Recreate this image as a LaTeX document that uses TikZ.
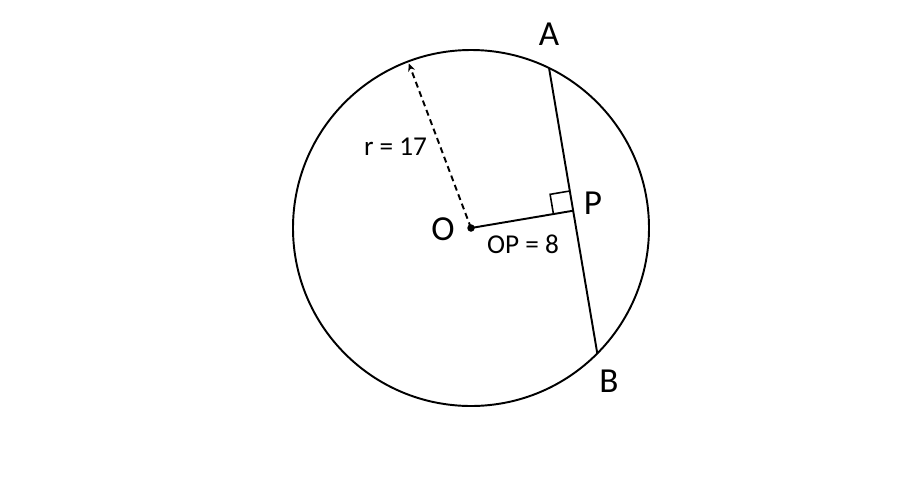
\documentclass[tikz,border=0pt]{standalone}
\usepackage{fontspec}
\setmainfont{Carlito}
\usetikzlibrary{calc,arrows.meta}

\begin{document}
\begin{tikzpicture}
	\tikzstyle{every node}=[font=\fontsize{15.5}{18}\selectfont]
	\tikzstyle{biglabel}=[font=\fontsize{20}{24}\selectfont]
	\tikzstyle{thickline}=[line width=1.1pt]
	\useasboundingbox (-9.42,-5.48) rectangle (8.92,4.56);
	\coordinate (O) at (0,0);
	\coordinate (A) at (64:3.56);
	\coordinate (B) at (-44.8:3.56);
	\coordinate (R) at (110.7:3.52);
	\coordinate (P) at ($(A)!(O)!(B)$);
	\coordinate (Q1) at ($(P)!0.4cm!(O)$);
	\coordinate (Q2) at ($(P)!0.4cm!(A)$);
	\coordinate (Q) at ($(Q1)+(Q2)-(P)$);
	\draw [thickline] (O) circle (3.56cm);
	\draw [thickline] (A) -- (B);
	\draw [thickline] (O) -- (P);
	\draw [thickline, dash pattern=on 3.4pt off 2.3pt, -{Stealth[length=1.6mm,width=1.4mm]}] (O) -- (R);
	\draw [line width=0.9pt] (Q1) -- (Q) -- (Q2);
	\fill (O) circle (0.075cm);
	\node [biglabel] (labA) at (1.56,3.87) {A};
	\node [biglabel] (labB) at (2.76,-3.06) {B};
	\node [biglabel] (labP) at (2.44,0.5) {P};
	\node [biglabel] (labO) at (-0.56,-0.02) {O};
	\node (labr) at (-1.51,1.63) {r = 17};
	\node (labOP) at (1.04,-0.32) {OP = 8};
\end{tikzpicture}
\end{document}
